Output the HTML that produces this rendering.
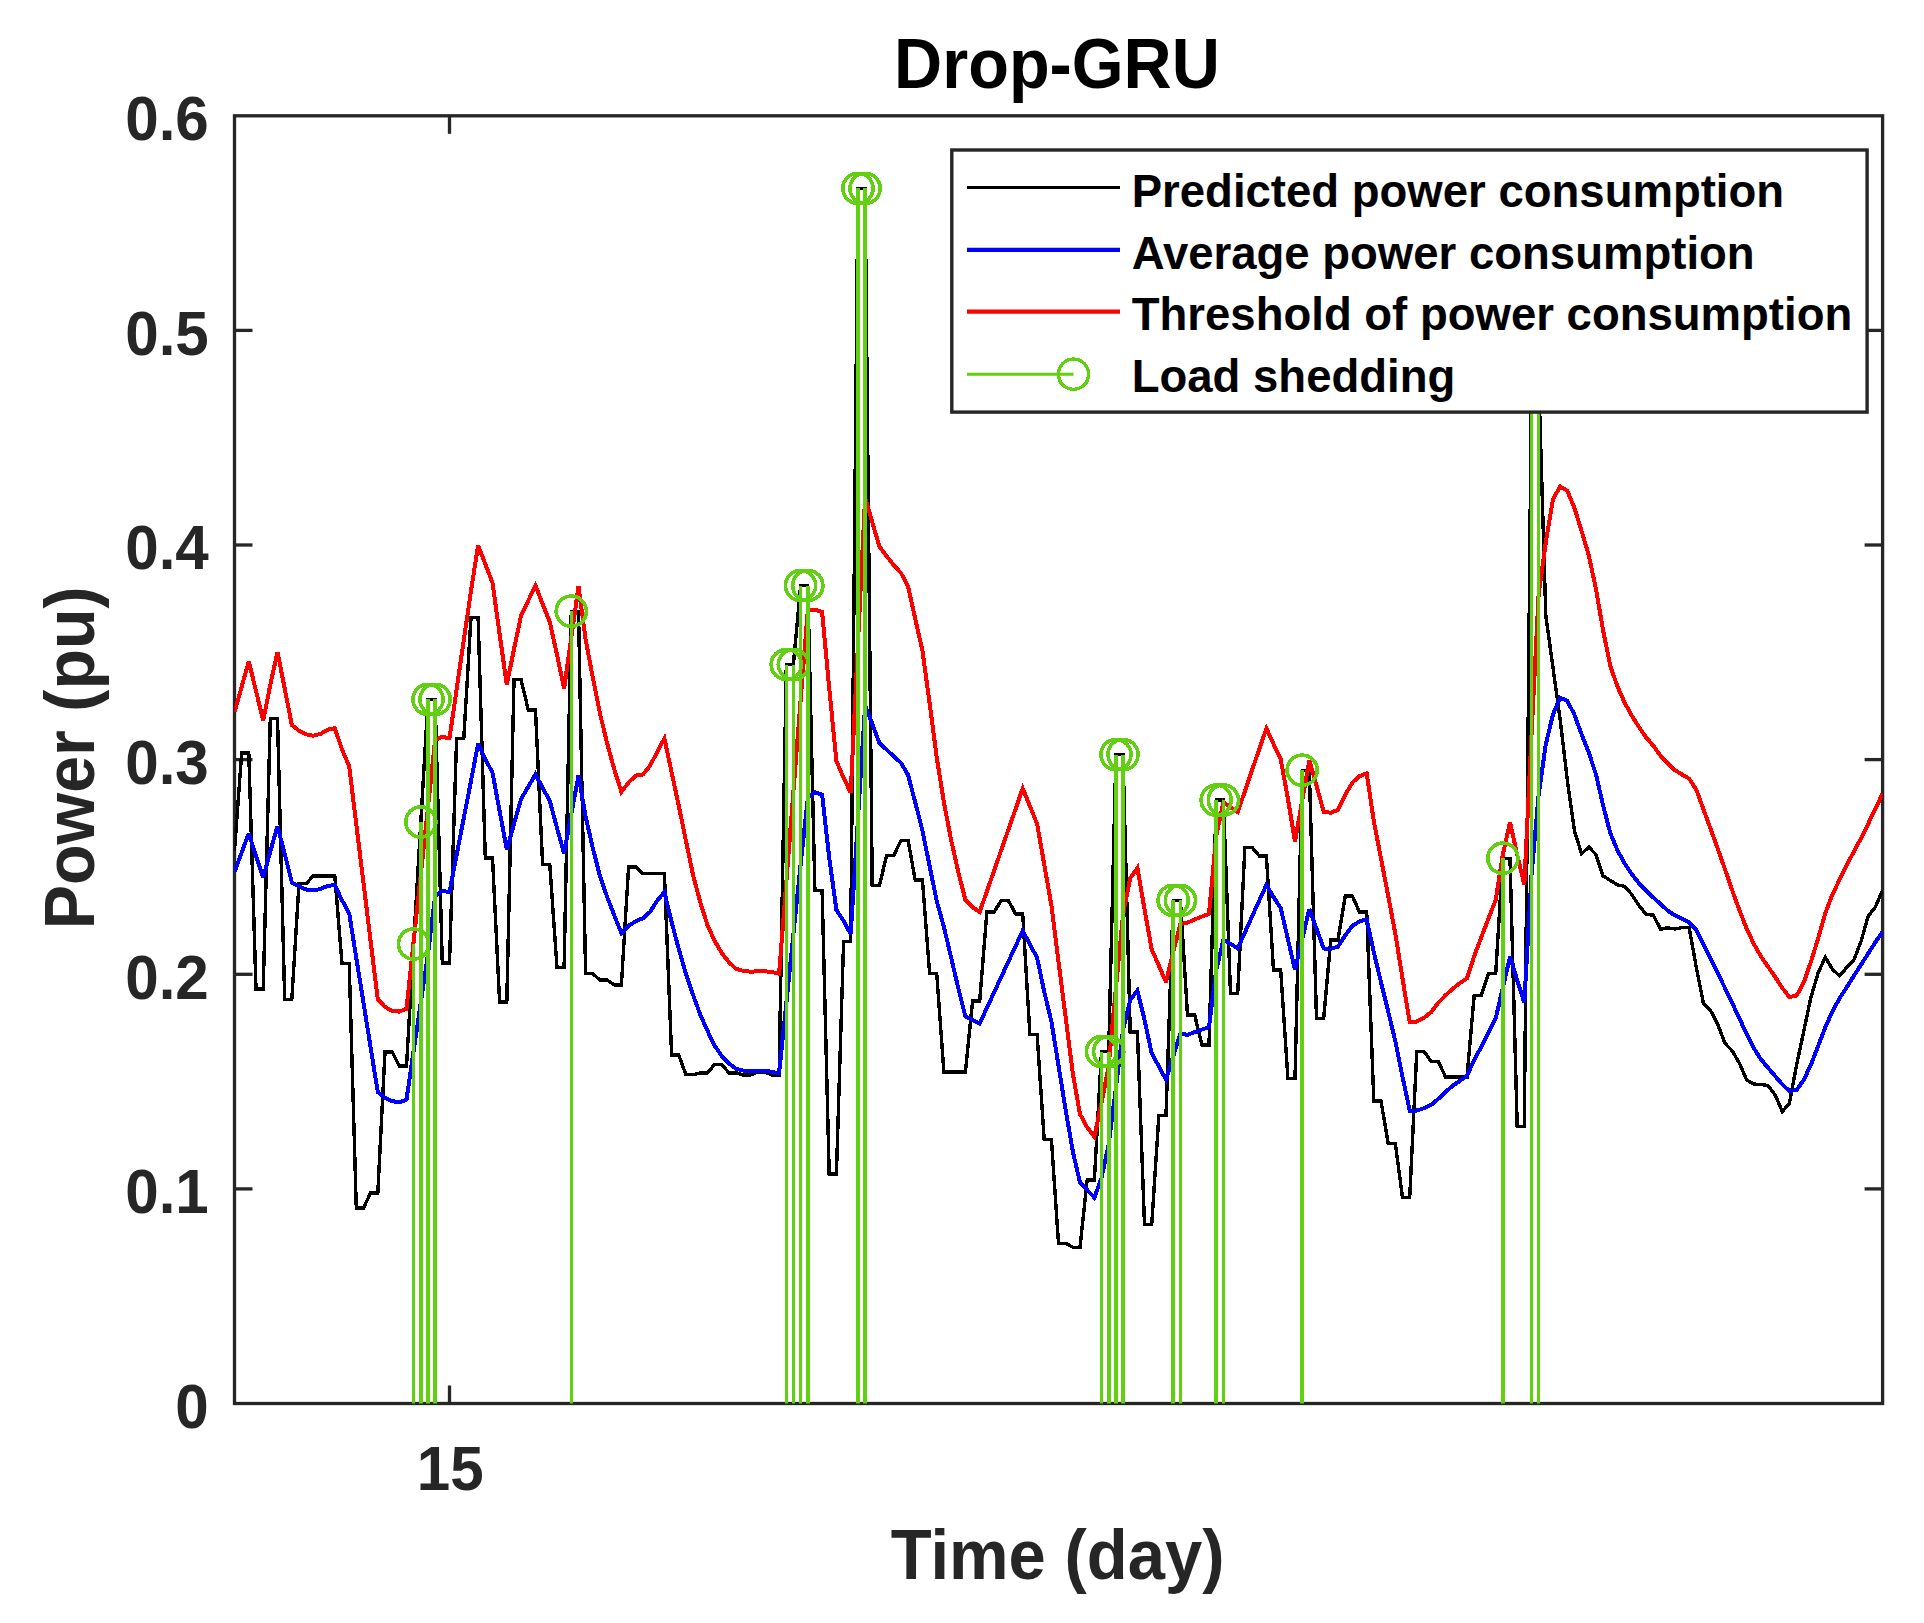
<!DOCTYPE html>
<html lang="en"><head><meta charset="utf-8"><title>Drop-GRU</title>
<style>html,body{margin:0;padding:0;background:#fff}svg{display:block}text{font-family:"Liberation Sans",Arial,Helvetica,sans-serif;font-weight:bold}</style></head><body>
<svg width="1924" height="1623" viewBox="0 0 1924 1623">
<rect x="0" y="0" width="1924" height="1623" fill="#fff"/>
<defs><clipPath id="ax"><rect x="234.5" y="115.8" width="1648.1" height="1287.7"/></clipPath></defs>
<g stroke="#262626" stroke-width="3.3" fill="none" stroke-linecap="butt">
<rect x="234.5" y="115.8" width="1648.1" height="1287.7"/>
<line x1="234.5" y1="1188.9" x2="252.5" y2="1188.9"/>
<line x1="1882.6" y1="1188.9" x2="1864.6" y2="1188.9"/>
<line x1="234.5" y1="974.3" x2="252.5" y2="974.3"/>
<line x1="1882.6" y1="974.3" x2="1864.6" y2="974.3"/>
<line x1="234.5" y1="759.6" x2="252.5" y2="759.6"/>
<line x1="1882.6" y1="759.6" x2="1864.6" y2="759.6"/>
<line x1="234.5" y1="545.0" x2="252.5" y2="545.0"/>
<line x1="1882.6" y1="545.0" x2="1864.6" y2="545.0"/>
<line x1="234.5" y1="330.4" x2="252.5" y2="330.4"/>
<line x1="1882.6" y1="330.4" x2="1864.6" y2="330.4"/>
<line x1="449.5" y1="1403.5" x2="449.5" y2="1385.5"/>
<line x1="449.5" y1="115.8" x2="449.5" y2="133.8"/>
</g>
<g clip-path="url(#ax)" fill="none" stroke-linejoin="miter" stroke-miterlimit="3" stroke-linecap="butt" shape-rendering="crispEdges">
<polyline stroke="#000" stroke-width="3.4" points="234.5,850.7 241.7,752.8 248.8,752.8 256.0,989.1 263.2,989.1 270.3,718.5 277.5,718.5 284.7,999.4 291.8,999.4 299.0,883.7 306.2,883.7 313.3,875.8 320.5,875.8 327.7,875.8 334.8,875.8 342.0,963.5 349.2,963.5 356.3,1207.9 363.5,1207.9 370.6,1193.0 377.8,1193.0 385.0,1051.9 392.1,1051.9 399.3,1065.9 406.5,1065.9 413.6,944.0 420.8,822.0 428.0,699.4 435.1,699.4 442.3,962.9 449.5,962.9 456.6,738.2 463.8,738.2 471.0,617.4 478.1,617.4 485.3,858.0 492.5,858.0 499.6,1001.9 506.8,1001.9 514.0,679.7 521.1,679.7 528.3,710.0 535.5,710.0 542.6,864.6 549.8,864.6 557.0,967.6 564.1,967.6 571.3,611.2 578.5,611.2 585.6,973.6 592.8,973.6 599.9,980.1 607.1,980.1 614.3,984.8 621.4,984.8 628.6,866.8 635.8,866.8 642.9,873.7 650.1,873.7 657.3,873.7 664.4,873.7 671.6,1055.0 678.8,1055.0 685.9,1074.7 693.1,1074.7 700.3,1073.0 707.4,1073.0 714.6,1064.4 721.8,1064.4 728.9,1072.8 736.1,1072.8 743.3,1075.0 750.4,1075.0 757.6,1071.9 764.8,1071.9 771.9,1075.0 779.1,1075.0 786.3,664.5 793.4,664.5 800.6,585.5 807.8,585.5 814.9,890.6 822.1,890.6 829.2,1174.0 836.4,1174.0 843.6,941.7 850.7,941.7 857.9,188.4 865.1,188.4 872.2,885.5 879.4,885.5 886.6,855.6 893.7,855.6 900.9,840.6 908.1,840.6 915.2,879.9 922.4,879.9 929.6,973.2 936.7,973.2 943.9,1072.1 951.1,1072.1 958.2,1072.1 965.4,1072.1 972.6,1000.9 979.7,1000.9 986.9,911.9 994.1,911.9 1001.2,900.7 1008.4,900.7 1015.6,913.8 1022.7,913.8 1029.9,1034.6 1037.1,1034.6 1044.2,1139.5 1051.4,1139.5 1058.5,1243.4 1065.7,1243.4 1072.9,1247.2 1080.0,1247.2 1087.2,1179.8 1094.4,1179.8 1101.5,1051.5 1108.7,1051.5 1115.9,754.6 1123.0,754.6 1130.2,1031.8 1137.4,1031.8 1144.5,1224.7 1151.7,1224.7 1158.9,1115.2 1166.0,1115.2 1173.2,900.4 1180.4,900.4 1187.5,1015.0 1194.7,1015.0 1201.9,1044.9 1209.0,1044.9 1216.2,800.1 1223.4,800.1 1230.5,993.4 1237.7,993.4 1244.9,847.3 1252.0,847.3 1259.2,855.8 1266.4,855.8 1273.5,970.0 1280.7,970.0 1287.9,1078.7 1295.0,1078.7 1302.2,770.2 1309.3,770.2 1316.5,1018.2 1323.7,1018.2 1330.8,940.0 1338.0,940.0 1345.2,896.0 1352.3,896.0 1359.5,912.0 1366.7,912.0 1373.8,1101.1 1381.0,1101.1 1388.2,1143.3 1395.3,1143.3 1402.5,1197.6 1409.7,1197.6 1416.8,1051.5 1424.0,1051.5 1431.2,1061.4 1438.3,1061.4 1445.5,1076.8 1452.7,1076.8 1459.8,1076.8 1467.0,1076.8 1474.2,995.3 1481.3,995.3 1488.5,973.7 1495.7,973.7 1502.8,858.2 1510.0,858.2 1517.2,1126.4 1524.3,1126.4 1531.5,375.0 1538.6,375.0 1545.8,615.4 1553.0,667.8 1560.1,719.0 1567.3,780.0 1574.5,831.0 1581.6,853.7 1588.8,847.0 1596.0,854.6 1603.1,876.0 1610.3,880.4 1617.5,884.9 1624.6,886.3 1631.8,894.5 1639.0,905.5 1646.1,914.5 1653.3,915.0 1660.5,929.2 1667.6,927.8 1674.8,929.0 1682.0,927.6 1689.1,927.6 1696.3,967.4 1703.5,1003.9 1710.6,1010.5 1717.8,1024.5 1725.0,1043.3 1732.1,1050.7 1739.3,1062.9 1746.5,1079.8 1753.6,1084.1 1760.8,1084.5 1767.9,1085.4 1775.1,1094.8 1782.3,1111.6 1789.4,1103.2 1796.6,1064.8 1803.8,1031.1 1810.9,997.4 1818.1,973.0 1825.3,957.1 1832.4,969.3 1839.6,975.8 1846.8,967.4 1853.9,959.9 1861.1,941.2 1868.3,915.9 1875.4,907.0 1882.6,890.0"/>
<polyline stroke="#0000ff" stroke-width="4" points="234.5,872.0 241.7,852.4 248.8,833.3 256.0,856.0 263.2,877.7 270.3,851.5 277.5,826.2 284.7,854.0 291.8,882.4 299.0,886.5 306.2,889.5 313.3,890.3 320.5,889.0 327.7,885.8 334.8,885.2 342.0,900.2 349.2,913.3 356.3,958.0 363.5,1002.7 370.6,1047.4 377.8,1092.1 385.0,1097.8 392.1,1101.1 399.3,1102.4 406.5,1099.6 413.6,1051.0 420.8,1002.6 428.0,954.0 435.1,896.0 442.3,890.8 449.5,892.1 456.6,855.0 463.8,818.0 471.0,781.0 478.1,743.8 485.3,758.8 492.5,772.8 499.6,811.0 506.8,849.6 514.0,824.0 521.1,799.0 528.3,786.7 535.5,774.3 542.6,787.8 549.8,801.0 557.0,828.0 564.1,853.4 571.3,814.0 578.5,775.6 585.6,816.5 592.8,848.0 599.9,876.0 607.1,896.8 614.3,915.5 621.4,933.3 628.6,925.8 635.8,921.1 642.9,918.3 650.1,911.8 657.3,900.5 664.4,892.1 671.6,922.0 678.8,949.2 685.9,973.6 693.1,995.0 700.3,1014.8 707.4,1030.7 714.6,1045.7 721.8,1056.0 728.9,1063.4 736.1,1068.7 743.3,1070.6 750.4,1071.3 757.6,1070.9 764.8,1070.6 771.9,1071.9 779.1,1073.2 786.3,1003.7 793.4,934.2 800.6,864.7 807.8,798.0 814.9,792.4 822.1,794.7 829.2,857.5 836.4,909.9 843.6,921.0 850.7,934.2 857.9,820.0 865.1,705.5 872.2,723.6 879.4,743.2 886.6,749.7 893.7,756.3 900.9,762.8 908.1,775.0 915.2,802.2 922.4,830.3 929.6,866.0 936.7,901.0 943.9,926.9 951.1,957.5 958.2,987.8 965.4,1016.3 972.6,1020.2 979.7,1023.4 986.9,1007.9 994.1,992.5 1001.2,977.0 1008.4,961.6 1015.6,946.1 1022.7,930.7 1029.9,944.3 1037.1,957.8 1044.2,991.5 1051.4,1021.5 1058.5,1065.5 1065.7,1110.5 1072.9,1151.7 1080.0,1182.6 1087.2,1190.0 1094.4,1197.6 1101.5,1177.9 1108.7,1144.2 1115.9,1088.0 1123.0,1030.0 1130.2,1000.0 1137.4,990.6 1144.5,1019.7 1151.7,1053.4 1158.9,1066.5 1166.0,1079.6 1173.2,1056.2 1180.4,1033.7 1187.5,1034.8 1194.7,1032.2 1201.9,1029.6 1209.0,1027.2 1216.2,970.0 1223.4,940.0 1230.5,943.8 1237.7,948.5 1244.9,932.5 1252.0,916.6 1259.2,900.7 1266.4,884.8 1273.5,897.0 1280.7,908.0 1287.9,939.1 1295.0,970.0 1302.2,939.1 1309.3,909.1 1316.5,928.8 1323.7,948.5 1330.8,948.8 1338.0,946.6 1345.2,935.4 1352.3,926.0 1359.5,921.3 1366.7,919.4 1373.8,952.2 1381.0,982.2 1388.2,1011.5 1395.3,1041.2 1402.5,1076.8 1409.7,1110.5 1416.8,1110.5 1424.0,1108.2 1431.2,1104.9 1438.3,1098.9 1445.5,1091.8 1452.7,1085.8 1459.8,1080.9 1467.0,1075.8 1474.2,1059.9 1481.3,1046.8 1488.5,1032.8 1495.7,1018.5 1502.8,987.8 1510.0,956.9 1517.2,980.3 1524.3,1002.8 1531.5,875.4 1538.6,794.9 1545.8,744.3 1553.0,714.4 1560.1,697.8 1567.3,700.7 1574.5,714.9 1581.6,734.3 1588.8,752.6 1596.0,774.5 1603.1,805.5 1610.3,833.1 1617.5,850.4 1624.6,863.5 1631.8,874.3 1639.0,883.2 1646.1,890.9 1653.3,897.5 1660.5,904.0 1667.6,910.5 1674.8,915.4 1682.0,918.7 1689.1,922.2 1696.3,930.1 1703.5,944.2 1710.6,959.0 1717.8,973.4 1725.0,988.0 1732.1,1003.0 1739.3,1018.0 1746.5,1033.9 1753.6,1047.9 1760.8,1059.2 1767.9,1067.6 1775.1,1076.0 1782.3,1084.5 1789.4,1091.0 1796.6,1090.1 1803.8,1079.8 1810.9,1064.8 1818.1,1046.1 1825.3,1027.3 1832.4,1011.4 1839.6,998.3 1846.8,987.1 1853.9,975.8 1861.1,964.6 1868.3,953.4 1875.4,942.1 1882.6,931.8"/>
<polyline stroke="#ff0000" stroke-width="4" points="234.5,712.0 241.7,686.7 248.8,661.4 256.0,691.0 263.2,720.4 270.3,684.8 277.5,652.0 284.7,688.5 291.8,725.0 299.0,730.7 306.2,734.4 313.3,735.7 320.5,733.9 327.7,729.7 334.8,728.2 342.0,749.4 349.2,766.3 356.3,824.6 363.5,882.9 370.6,941.1 377.8,999.4 385.0,1006.9 392.1,1010.7 399.3,1011.6 406.5,1008.8 413.6,941.6 420.8,874.4 428.0,807.2 435.1,740.0 442.3,736.9 449.5,738.2 456.6,689.5 463.8,639.9 471.0,591.0 478.1,545.3 485.3,564.0 492.5,582.7 499.6,634.0 506.8,684.8 514.0,649.0 521.1,615.5 528.3,600.5 535.5,585.5 542.6,604.0 549.8,622.0 557.0,654.8 564.1,688.5 571.3,637.5 578.5,586.5 585.6,639.3 592.8,677.6 599.9,713.2 607.1,743.2 614.3,769.4 621.4,791.9 628.6,782.5 635.8,775.6 642.9,774.5 650.1,765.7 657.3,751.6 664.4,738.5 671.6,772.3 678.8,806.0 685.9,840.6 693.1,875.2 700.3,902.4 707.4,924.9 714.6,940.8 721.8,953.0 728.9,962.3 736.1,968.9 743.3,970.9 750.4,971.7 757.6,971.3 764.8,971.3 771.9,972.0 779.1,973.6 786.3,882.6 793.4,791.6 800.6,700.6 807.8,610.5 814.9,609.7 822.1,612.1 829.2,688.0 836.4,761.0 843.6,777.8 850.7,792.6 857.9,645.0 865.1,497.5 872.2,522.0 879.4,546.6 886.6,556.0 893.7,565.3 900.9,572.8 908.1,586.8 915.2,618.7 922.4,650.5 929.6,703.0 936.7,757.3 943.9,802.4 951.1,839.9 958.2,871.7 965.4,899.8 972.6,907.3 979.7,911.9 986.9,891.3 994.1,870.7 1001.2,850.1 1008.4,829.6 1015.6,809.0 1022.7,788.4 1029.9,806.1 1037.1,823.9 1044.2,864.2 1051.4,905.4 1058.5,961.6 1065.7,1017.8 1072.9,1074.0 1080.0,1114.2 1087.2,1127.3 1094.4,1136.7 1101.5,1103.0 1108.7,1065.5 1115.9,988.0 1123.0,915.0 1130.2,878.2 1137.4,867.9 1144.5,909.1 1151.7,949.4 1158.9,965.7 1166.0,982.2 1173.2,952.2 1180.4,924.1 1187.5,922.6 1194.7,919.4 1201.9,916.6 1209.0,913.8 1216.2,836.1 1223.4,802.4 1230.5,807.1 1237.7,812.1 1244.9,791.2 1252.0,770.2 1259.2,749.4 1266.4,728.4 1273.5,744.0 1280.7,759.3 1287.9,798.7 1295.0,841.7 1302.2,800.5 1309.3,760.3 1316.5,785.5 1323.7,811.8 1330.8,812.7 1338.0,809.9 1345.2,794.9 1352.3,782.7 1359.5,776.2 1366.7,773.4 1373.8,821.1 1381.0,858.6 1388.2,896.0 1395.3,933.5 1402.5,978.4 1409.7,1022.3 1416.8,1021.5 1424.0,1017.8 1431.2,1012.1 1438.3,1002.8 1445.5,995.3 1452.7,988.7 1459.8,983.1 1467.0,978.4 1474.2,956.0 1481.3,937.2 1488.5,918.5 1495.7,899.8 1502.8,854.8 1510.0,822.1 1517.2,854.8 1524.3,884.8 1531.5,735.0 1538.6,594.8 1545.8,542.3 1553.0,499.3 1560.1,486.5 1567.3,490.8 1574.5,508.2 1581.6,531.1 1588.8,555.4 1596.0,589.1 1603.1,630.4 1610.3,666.0 1617.5,686.6 1624.6,702.5 1631.8,715.8 1639.0,727.1 1646.1,737.4 1653.3,745.8 1660.5,755.7 1667.6,763.2 1674.8,770.1 1682.0,774.5 1689.1,778.6 1696.3,789.8 1703.5,809.5 1710.6,829.1 1717.8,848.8 1725.0,869.4 1732.1,890.0 1739.3,910.0 1746.5,928.2 1753.6,943.5 1760.8,956.2 1767.9,966.5 1775.1,976.8 1782.3,988.0 1789.4,997.0 1796.6,995.5 1803.8,982.4 1810.9,961.8 1818.1,938.5 1825.3,913.2 1832.4,894.5 1839.6,879.7 1846.8,864.7 1853.9,851.6 1861.1,838.1 1868.3,823.5 1875.4,808.5 1882.6,793.6"/>
<g stroke="#60d010" stroke-width="3.6">
<line x1="413.6" y1="1403.5" x2="413.6" y2="944.0"/>
<line x1="420.8" y1="1403.5" x2="420.8" y2="822.0"/>
<line x1="428.0" y1="1403.5" x2="428.0" y2="699.4"/>
<line x1="435.1" y1="1403.5" x2="435.1" y2="699.4"/>
<line x1="571.3" y1="1403.5" x2="571.3" y2="611.2"/>
<line x1="786.3" y1="1403.5" x2="786.3" y2="664.5"/>
<line x1="793.4" y1="1403.5" x2="793.4" y2="664.5"/>
<line x1="800.6" y1="1403.5" x2="800.6" y2="585.5"/>
<line x1="807.8" y1="1403.5" x2="807.8" y2="585.5"/>
<line x1="857.9" y1="1403.5" x2="857.9" y2="188.4"/>
<line x1="865.1" y1="1403.5" x2="865.1" y2="188.4"/>
<line x1="1101.5" y1="1403.5" x2="1101.5" y2="1051.5"/>
<line x1="1108.7" y1="1403.5" x2="1108.7" y2="1051.5"/>
<line x1="1115.9" y1="1403.5" x2="1115.9" y2="754.6"/>
<line x1="1123.0" y1="1403.5" x2="1123.0" y2="754.6"/>
<line x1="1173.2" y1="1403.5" x2="1173.2" y2="900.4"/>
<line x1="1180.4" y1="1403.5" x2="1180.4" y2="900.4"/>
<line x1="1216.2" y1="1403.5" x2="1216.2" y2="800.1"/>
<line x1="1223.4" y1="1403.5" x2="1223.4" y2="800.1"/>
<line x1="1302.2" y1="1403.5" x2="1302.2" y2="770.2"/>
<line x1="1502.8" y1="1403.5" x2="1502.8" y2="858.2"/>
<line x1="1531.5" y1="1403.5" x2="1531.5" y2="375.0"/>
<line x1="1538.6" y1="1403.5" x2="1538.6" y2="375.0"/>
<circle cx="413.6" cy="944.0" r="15.1" stroke-width="3.6"/>
<circle cx="420.8" cy="822.0" r="15.1" stroke-width="3.6"/>
<circle cx="428.0" cy="699.4" r="15.1" stroke-width="3.6"/>
<circle cx="435.1" cy="699.4" r="15.1" stroke-width="3.6"/>
<circle cx="571.3" cy="611.2" r="15.1" stroke-width="3.6"/>
<circle cx="786.3" cy="664.5" r="15.1" stroke-width="3.6"/>
<circle cx="793.4" cy="664.5" r="15.1" stroke-width="3.6"/>
<circle cx="800.6" cy="585.5" r="15.1" stroke-width="3.6"/>
<circle cx="807.8" cy="585.5" r="15.1" stroke-width="3.6"/>
<circle cx="857.9" cy="188.4" r="15.1" stroke-width="3.6"/>
<circle cx="865.1" cy="188.4" r="15.1" stroke-width="3.6"/>
<circle cx="1101.5" cy="1051.5" r="15.1" stroke-width="3.6"/>
<circle cx="1108.7" cy="1051.5" r="15.1" stroke-width="3.6"/>
<circle cx="1115.9" cy="754.6" r="15.1" stroke-width="3.6"/>
<circle cx="1123.0" cy="754.6" r="15.1" stroke-width="3.6"/>
<circle cx="1173.2" cy="900.4" r="15.1" stroke-width="3.6"/>
<circle cx="1180.4" cy="900.4" r="15.1" stroke-width="3.6"/>
<circle cx="1216.2" cy="800.1" r="15.1" stroke-width="3.6"/>
<circle cx="1223.4" cy="800.1" r="15.1" stroke-width="3.6"/>
<circle cx="1302.2" cy="770.2" r="15.1" stroke-width="3.6"/>
<circle cx="1502.8" cy="858.2" r="15.1" stroke-width="3.6"/>
<circle cx="1531.5" cy="375.0" r="15.1" stroke-width="3.6"/>
<circle cx="1538.6" cy="375.0" r="15.1" stroke-width="3.6"/>
</g></g>
<g fill="#262626" font-size="63.0">
<text transform="translate(208.8,1427.9) scale(0.9550,1)" text-anchor="end">0</text>
<text transform="translate(208.8,1213.3) scale(0.9550,1)" text-anchor="end">0.1</text>
<text transform="translate(208.8,998.7) scale(0.9550,1)" text-anchor="end">0.2</text>
<text transform="translate(208.8,784.0) scale(0.9550,1)" text-anchor="end">0.3</text>
<text transform="translate(208.8,569.4) scale(0.9550,1)" text-anchor="end">0.4</text>
<text transform="translate(208.8,354.8) scale(0.9550,1)" text-anchor="end">0.5</text>
<text transform="translate(208.8,140.2) scale(0.9550,1)" text-anchor="end">0.6</text>
<text transform="translate(450.3,1489.6) scale(0.9550,1)" text-anchor="middle">15</text>
</g>
<text transform="translate(1057,87.6) scale(0.9454,1)" font-size="70.5" text-anchor="middle" fill="#000">Drop-GRU</text>
<text transform="translate(1057.6,1578.8) scale(0.941,1)" font-size="71.2" text-anchor="middle" fill="#262626">Time (day)</text>
<text transform="translate(94.0,757.8) rotate(-90) scale(0.9317,1)" font-size="71.2" text-anchor="middle" fill="#262626">Power (pu)</text>
<rect x="951.8" y="150.0" width="915.3" height="262.1" fill="#fff" stroke="#262626" stroke-width="3.4"/>
<g fill="none" stroke-linecap="butt">
<line x1="967" y1="187.5" x2="1120" y2="187.5" stroke="#000" stroke-width="3"/>
<line x1="967" y1="249.8" x2="1120" y2="249.8" stroke="#0000ff" stroke-width="4.2"/>
<line x1="967" y1="311.7" x2="1120" y2="311.7" stroke="#ff0000" stroke-width="4.2"/>
<line x1="967" y1="374.2" x2="1073.5" y2="374.2" stroke="#60d010" stroke-width="2.9"/>
<circle cx="1073.5" cy="374.2" r="15.1" stroke="#60d010" stroke-width="3.4" shape-rendering="crispEdges"/>
</g>
<g fill="#000" font-size="46.6">
<text transform="translate(1131.7,206.9) scale(0.9771,1)">Predicted power consumption</text>
<text transform="translate(1131.7,268.5) scale(0.9771,1)">Average power consumption</text>
<text transform="translate(1131.7,330.1) scale(0.9771,1)">Threshold of power consumption</text>
<text transform="translate(1131.7,392.0) scale(0.9771,1)">Load shedding</text>
</g>
</svg></body></html>
